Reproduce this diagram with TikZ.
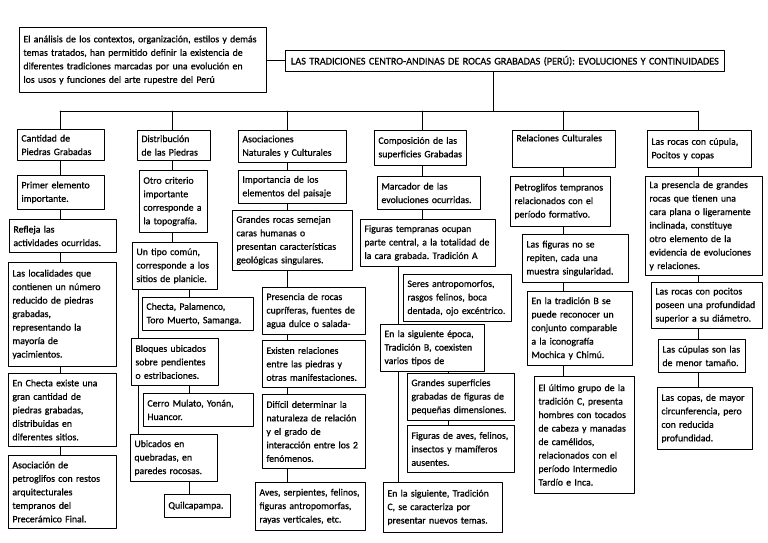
\documentclass[tikz,border=0pt]{standalone}
\usepackage{fontspec}
\setmainfont{Carlito}[FakeBold=0.7]
\usetikzlibrary{calc}
\frenchspacing

\begin{document}
\begin{tikzpicture}[x=1pt, y=-1pt, line cap=round, line join=round,
  box/.style={draw, line width=0.9pt, fill=white, anchor=north west, align=left,
    inner xsep=4pt, inner ysep=3pt, font=\fontsize{9.8}{13.5}\selectfont},
  link/.style={line width=0.9pt}]
\useasboundingbox (0,0) rectangle (768,543);

% Header
\node[box, text width=239pt, minimum height=65pt] (intro) at (19,27) {El análisis de los contextos, organización, estilos y demás\\temas tratados, han permitido definir la existencia de\\diferentes tradiciones marcadas por una evolución en\\los usos y funciones del arte rupestre del Perú};
\node[box, text width=431pt, minimum height=21pt, align=center, font=\fontsize{10.2}{12}\selectfont] (title) at (285,50) {LAS TRADICIONES CENTRO-ANDINAS DE ROCAS GRABADAS (PERÚ): EVOLUCIONES Y CONTINUIDADES};

% Drops from the bus
\coordinate (T) at (493,111);
\coordinate (D1) at (60,111);
\coordinate (D2) at (172,111);
\coordinate (D3) at (287,111);
\coordinate (D4) at (422,111);
\coordinate (D5) at (563,111);
\coordinate (D6) at (698,111);
\coordinate (S2) at (138,111); % trunk beside column 2
\coordinate (B2) at (189,111);
\coordinate (S4) at (398,111); % trunk beside column 4
\coordinate (B4) at (448,111);

% Column 1
\node[box, text width=79pt, minimum height=31pt] (c1a) at (17,129) {Cantidad de\\Piedras Grabadas};
\node[box, text width=79pt, minimum height=34pt] (c1b) at (17,175) {Primer elemento\\importante.};
\node[box, text width=99pt, minimum height=33pt] (c1c) at (9,219) {Refleja las\\actividades ocurridas.};
\node[box, text width=100pt, minimum height=104pt] (c1d) at (8,262) {Las localidades que\\contienen un número\\reducido de piedras\\grabadas,\\representando la\\mayoría de\\yacimientos.};
\node[box, text width=100pt, minimum height=73pt] (c1e) at (8,373) {En Checta existe una\\gran cantidad de\\piedras grabadas,\\distribuidas en\\diferentes sitios.};
\node[box, text width=100pt, minimum height=73pt] (c1f) at (8,455) {Asociación de\\petroglifos con restos\\arquitecturales\\tempranos del\\Precerámico Final.};

% Column 2
\node[box, text width=65pt, minimum height=30pt] (c2a) at (137,130) {Distribución\\de las Piedras};
\node[box, text width=60pt, minimum height=62pt] (c2b) at (139,170) {Otro criterio\\importante\\corresponde a\\la topografía.};
\node[box, text width=77pt, minimum height=47pt] (c2c) at (132,242) {Un tipo común,\\corresponde a los\\sitios de planicie.};
\node[box, text width=103pt, minimum height=33pt] (c2d) at (142,297) {Checta, Palamenco,\\Toro Muerto, Samanga.};
\node[box, text width=79pt, minimum height=47pt] (c2e) at (131,338) {Bloques ubicados\\sobre pendientes\\o estribaciones.};
\node[box, text width=102pt, minimum height=33pt] (c2f) at (143,393) {Cerro Mulato, Yonán,\\Huancor.};
\node[box, text width=79pt, minimum height=47pt] (c2g) at (130,434) {Ubicados en\\quebradas, en\\paredes rocosas.};
\node[box, text width=58pt, minimum height=23pt] (c2h) at (164,494) {Quilcapampa.};

% Column 3
\node[box, text width=100pt, minimum height=32pt] (c3a) at (238,130) {Asociaciones\\Naturales y Culturales};
\node[box, text width=100pt, minimum height=33pt] (c3b) at (238,170) {Importancia de los\\elementos del paisaje};
\node[box, text width=112pt, minimum height=60pt] (c3c) at (232,210) {Grandes rocas semejan\\caras humanas o\\presentan características\\geológicas singulares.};
\node[box, text width=95pt, minimum height=47pt] (c3d) at (262,287) {Presencia de rocas\\cupríferas, fuentes de\\agua dulce o salada-};
\node[box, text width=95pt, minimum height=47pt] (c3e) at (262,340) {Existen relaciones\\entre las piedras y\\otras manifestaciones.};
\node[box, text width=95pt, minimum height=74pt] (c3f) at (262,394) {Difícil determinar la\\naturaleza de relación\\y el grado de\\interacción entre los 2\\fenómenos.};
\node[box, text width=102pt, minimum height=48pt] (c3g) at (255,482) {Aves, serpientes, felinos,\\figuras antropomorfas,\\rayas verticales, etc.};

% Column 4
\node[box, text width=84pt, minimum height=35pt] (c4a) at (374,130) {Composición de las\\superficies Grabadas};
\node[box, text width=95pt, minimum height=33pt] (c4b) at (377,176) {Marcador de las\\evoluciones ocurridas.};
\node[box, text width=127pt, minimum height=47pt] (c4c) at (360,219) {Figuras tempranas ocupan\\parte central, a la totalidad de\\la cara grabada. Tradición A};
\node[box, text width=100pt, minimum height=47pt] (c4d) at (403,274) {Seres antropomorfos,\\rasgos felinos, boca\\dentada, ojo excéntrico.};
\node[box, text width=96pt, minimum height=47pt] (c4e) at (380,324) {En la siguiente época,\\Tradición B, coexisten\\varios tipos de};
\node[box, text width=99pt, minimum height=47pt] (c4f) at (407,373) {Grandes superficies\\grabadas de figuras de\\pequeñas dimensiones.};
\node[box, text width=99pt, minimum height=47pt] (c4g) at (407,425) {Figuras de aves, felinos,\\insectos y mamíferos\\ausentes.};
\node[box, text width=111pt, minimum height=50pt] (c4h) at (383,482) {En la siguiente, Tradición\\C, se caracteriza por\\presentar nuevos temas.};

% Column 5
\node[box, text width=95pt, minimum height=37pt, text depth=22pt] (c5a) at (512,130) {Relaciones Culturales};
\node[box, text width=92pt, minimum height=50pt] (c5b) at (510,176) {Petroglifos tempranos\\relacionados con el\\período formativo.};
\node[box, text width=98pt, minimum height=48pt] (c5c) at (522,234) {Las figuras no se\\repiten, cada una\\muestra singularidad.};
\node[box, text width=97pt, minimum height=74pt] (c5d) at (527,291) {En la tradición B se\\puede reconocer un\\conjunto comparable\\a la iconografía\\Mochica y Chimú.};
\node[box, text width=92pt, minimum height=117pt] (c5e) at (534,376) {El último grupo de la\\tradición C, presenta\\hombres con tocados\\de cabeza y manadas\\de camélidos,\\relacionados con el\\período Intermedio\\Tardío e Inca.};

% Column 6
\node[box, text width=96pt, minimum height=37pt] (c6a) at (647,130) {Las rocas con cúpula,\\Pocitos y copas};
\node[box, text width=109pt, minimum height=99pt] (c6b) at (645,176) {La presencia de grandes\\rocas que tienen una\\cara plana o ligeramente\\inclinada, constituye\\otro elemento de la\\evidencia de evoluciones\\y relaciones.};
\node[box, text width=103pt, minimum height=46pt] (c6c) at (651,282) {Las rocas con pocitos\\poseen una profundidad\\superior a su diámetro.};
\node[box, text width=79pt, minimum height=33pt] (c6d) at (658,339) {Las cúpulas son las\\de menor tamaño.};
\node[box, text width=87pt, minimum height=62pt] (c6e) at (657,387) {Las copas, de mayor\\circunferencia, pero\\con reducida\\profundidad.};

% Links
\draw[link] (intro.east |- title.west) -- (title.west);
\draw[link] (title.south -| T) -- (T);
\draw[link] (D1) -- (D6);
\foreach \d/\n in {D1/c1a, D2/c2a, D3/c3a, D4/c4a, D5/c5a, D6/c6a}
  \draw[link] (\d) -- (\d |- \n.north);
\foreach \a/\b in {c1a/c1b, c1b/c1c, c1c/c1d, c1d/c1e, c1e/c1f}
  \draw[link] (\a.south -| D1) -- (\b.north -| D1);
\foreach \a/\b in {c2a/c2b, c2b/c2c}
  \draw[link] (\a.south -| D2) -- (\b.north -| D2);
\foreach \a/\b in {c2c/c2d, c2e/c2f, c2g/c2h}
  \draw[link] (\a.south -| B2) -- (\b.north -| B2);
\foreach \a/\b in {c2c/c2e, c2e/c2g}
  \draw[link] (\a.south -| S2) -- (\b.north -| S2);
\foreach \a/\b in {c3a/c3b, c3b/c3c, c3c/c3d, c3d/c3e, c3e/c3f, c3f/c3g}
  \draw[link] (\a.south -| D3) -- (\b.north -| D3);
\foreach \a/\b in {c4a/c4b, c4b/c4c}
  \draw[link] (\a.south -| D4) -- (\b.north -| D4);
\foreach \a/\b in {c4c/c4e, c4e/c4h}
  \draw[link] (\a.south -| S4) -- (\b.north -| S4);
\foreach \a/\b in {c4e/c4f, c4f/c4g}
  \draw[link] (\a.south -| B4) -- (\b.north -| B4);
\foreach \a/\b in {c5a/c5b, c5b/c5c, c5c/c5d, c5d/c5e}
  \draw[link] (\a.south -| D5) -- (\b.north -| D5);
\foreach \a/\b in {c6a/c6b, c6b/c6c, c6c/c6d, c6d/c6e}
  \draw[link] (\a.south -| D6) -- (\b.north -| D6);
\end{tikzpicture}
\end{document}
